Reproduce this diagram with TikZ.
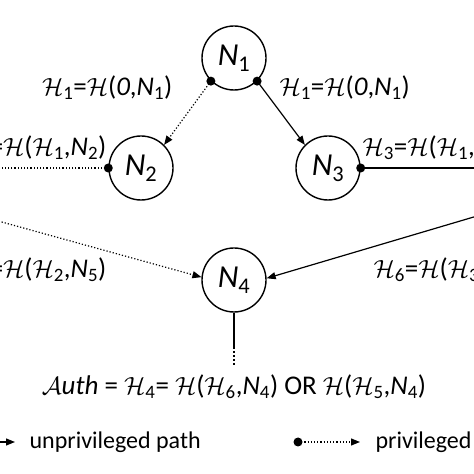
\documentclass[tikz,border=0pt]{standalone}
\usepackage{fontspec}
\setmainfont{Carlito}
\usetikzlibrary{arrows.meta}
\newcommand{\Hh}[1]{$\mathcal{H}$\textsubscript{#1}}
\newcommand{\Nn}[1]{\textit{N}\textsubscript{#1}}

\begin{document}
\begin{tikzpicture}[x=1pt, y=1pt, >={Triangle[length=9pt, width=7pt]}, line width=1.2pt,
  nd/.style={circle, draw, line width=1.4pt, minimum size=64pt, inner sep=0pt,
    font=\fontsize{32}{34}\selectfont},
  lbl/.style={inner sep=0pt, font=\fontsize{27}{30}\selectfont},
  lgd/.style={inner sep=0pt, font=\fontsize{24}{27}\selectfont},
  priv/.style={dotted},
  unpriv/.style={solid}]
  \useasboundingbox (0,0) rectangle (474,474);
  \clip (0,0) rectangle (474,474);

  % nodos
  \node[nd] (N1) at (234,416) {\Nn{1}};
  \node[nd] (N2) at (141,306) {\Nn{2}};
  \node[nd] (N3) at (328,306) {\Nn{3}};
  \node[nd] (N4) at (234,194) {\Nn{4}};

  % extremos fuera del cuadro
  \coordinate (inL) at (-20,258);
  \coordinate (inR) at (494,263);
  \coordinate (outL) at (-20,306);
  \coordinate (outR) at (494,306);
  \coordinate (mid) at (234,127);
  \coordinate (end) at (234,107);

  % caminos
  \draw[priv, ->] (N1.south west) -- (N2.45);
  \draw[unpriv, ->] (N1.south east) -- (N3.135);
  \draw[priv] (N2.west) -- (outL);
  \draw[unpriv] (N3.east) -- (outR);
  \draw[priv, ->] (inL) -- (N4.175);
  \draw[unpriv, ->] (inR) -- (N4.3);
  \draw[line width=1.6pt] (N4.south) -- (mid);
  \draw[line width=1.6pt, dash pattern=on 2.5pt off 1.5pt] (mid) -- (end);
  \foreach \a in {N1.south west, N1.south east, N2.west, N3.east}
    \fill (\a) circle (4.5);

  % etiquetas
  \node[lbl, anchor=east] (h1l) at (173,386) {\Hh{1}=$\mathcal{H}$(\textit{0},\Nn{1})};
  \node[lbl, anchor=west] (h1r) at (279,386) {\Hh{1}=$\mathcal{H}$(\textit{0},\Nn{1})};
  \node[lbl, anchor=east] (h2) at (107,326) {\Hh{2}=$\mathcal{H}$(\Hh{1},\Nn{2})};
  \node[lbl, anchor=west] (h3) at (362,326) {\Hh{3}=$\mathcal{H}$(\Hh{1},\Nn{3})};
  \node[lbl, anchor=east] (h5) at (107,204) {\Hh{5}=$\mathcal{H}$(\Hh{2},\Nn{5})};
  \node[lbl, anchor=west] (h6) at (373,204) {\Hh{6}=$\mathcal{H}$(\Hh{3},\Nn{6})};
  \node[lbl] (auth) at (234,87) {$\mathcal{A}\mathit{uth}$ = \Hh{4}= $\mathcal{H}$(\Hh{6},\Nn{4}) OR $\mathcal{H}$(\Hh{5},\Nn{4})};

  % leyenda
  \coordinate (lgA) at (-30,32);
  \coordinate (lgB) at (15,32);
  \draw[unpriv, ->] (lgA) -- (lgB);
  \node[lgd, anchor=west] (lgU) at (29,32) {unprivileged path};
  \coordinate (lgC) at (298,32);
  \coordinate (lgD) at (360,32);
  \fill (lgC) circle (4.5);
  \draw[priv, ->] (lgC) -- (lgD);
  \node[lgd, anchor=west] (lgP) at (375,32) {privileged path};
\end{tikzpicture}
\end{document}
